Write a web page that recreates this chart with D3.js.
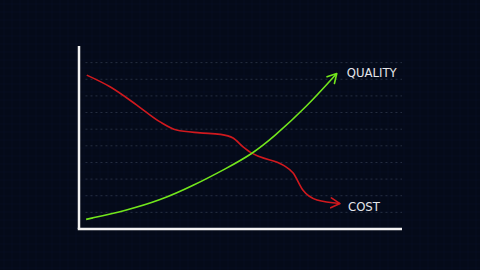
<!DOCTYPE html>
<html>
<head>
<meta charset="utf-8">
<script src="https://cdn.jsdelivr.net/npm/d3@7"></script>
<style>
  html, body { margin: 0; padding: 0; background: #040a19; }
  svg { display: block; }
</style>
</head>
<body>
<div id="container"></div>
<script>
// series values (x: 0-100, y: 0-11)
var costX = [2.4, 9.6, 17.9, 25.1, 30.2, 37.5, 43.7, 47.7, 50.8, 53.5, 56, 63.2, 66.3, 69.3, 73.7, 80.8];
var costY = [9.25, 8.55, 7.45, 6.44, 5.95, 5.78, 5.69, 5.47, 4.94, 4.56, 4.34, 3.84, 3.36, 2.34, 1.74, 1.53];
var qualityX = [2.2, 14.8, 25.1, 35.3, 45.7, 53.5, 60.1, 70.5, 79.8];
var qualityY = [0.58, 1.12, 1.72, 2.6, 3.65, 4.5, 5.5, 7.35, 9.35];
var seriesNames = ["QUALITY", "COST"];
var gridTicks = [1, 2, 3, 4, 5, 6, 7, 8, 9, 10];

var width = 480, height = 270;

var svg = d3.select("#container").append("svg")
    .attr("width", width)
    .attr("height", height);

// faint background grid
var bg = svg.append("g");
for (var gx = 4; gx < width; gx += 8) {
    bg.append("line").attr("x1", gx).attr("x2", gx).attr("y1", 0).attr("y2", height)
        .attr("stroke", "#0b1530").attr("stroke-width", 1).attr("opacity", 0.35);
}
for (var gy = 4; gy < height; gy += 8) {
    bg.append("line").attr("y1", gy).attr("y2", gy).attr("x1", 0).attr("x2", width)
        .attr("stroke", "#0b1530").attr("stroke-width", 1).attr("opacity", 0.35);
}

var x = d3.scaleLinear().domain([0, 100]).range([79, 402]);
var y = d3.scaleLinear().domain([0, 11]).range([229, 46]);

// dashed guide lines
svg.append("g")
    .selectAll("line")
    .data(gridTicks)
    .enter().append("line")
    .attr("x1", x(2)).attr("x2", x(100))
    .attr("y1", function (d) { return y(d); })
    .attr("y2", function (d) { return y(d); })
    .attr("stroke", "#262f42")
    .attr("stroke-width", 1)
    .attr("stroke-dasharray", "2,3");

// arrow markers
var defs = svg.append("defs");
[["arrRed", "#d0191e"], ["arrGreen", "#72e61c"]].forEach(function (m) {
    defs.append("marker")
        .attr("id", m[0])
        .attr("viewBox", "0 0 12 12")
        .attr("refX", 10).attr("refY", 6)
        .attr("markerWidth", 12).attr("markerHeight", 12)
        .attr("markerUnits", "userSpaceOnUse")
        .attr("orient", "auto")
        .append("path")
        .attr("d", "M1,1 L10,6 L1,11")
        .attr("fill", "none")
        .attr("stroke", m[1])
        .attr("stroke-width", 1.6)
        .attr("stroke-linecap", "round")
        .attr("stroke-linejoin", "round");
});

var lineCost = d3.line()
    .x(function (d) { return x(d[0]); })
    .y(function (d) { return y(d[1]); })
    .curve(d3.curveMonotoneX);

var lineQuality = d3.line()
    .x(function (d) { return x(d[0]); })
    .y(function (d) { return y(d[1]); })
    .curve(d3.curveBasis);

var costData = d3.zip(costX, costY);
var qualityData = d3.zip(qualityX, qualityY);

svg.append("path")
    .datum(costData)
    .attr("d", lineCost)
    .attr("fill", "none")
    .attr("stroke", "#d0191e")
    .attr("stroke-width", 1.6)
    .attr("marker-end", "url(#arrRed)");

svg.append("path")
    .datum(qualityData)
    .attr("d", lineQuality)
    .attr("fill", "none")
    .attr("stroke", "#72e61c")
    .attr("stroke-width", 1.6)
    .attr("marker-end", "url(#arrGreen)");

// axes
svg.append("line")
    .attr("x1", x(0)).attr("x2", x(0))
    .attr("y1", y(11)).attr("y2", y(0))
    .attr("stroke", "#f2f2f2").attr("stroke-width", 2.5);
svg.append("line")
    .attr("x1", x(0) - 1.25).attr("x2", x(100))
    .attr("y1", y(0)).attr("y2", y(0))
    .attr("stroke", "#f2f2f2").attr("stroke-width", 2.5);

// labels
var ends = [qualityData[qualityData.length - 1], costData[costData.length - 1]];
svg.append("g")
    .selectAll("text")
    .data(seriesNames)
    .enter().append("text")
    .attr("x", function (d, i) { return x(ends[i][0]) + (i === 0 ? 10 : 8); })
    .attr("y", function (d, i) { return y(ends[i][1]) + (i === 0 ? 4 : 7); })
    .attr("fill", "#e4e6ea")
    .style("font-family", "'Liberation Sans Narrow', 'DejaVu Sans Condensed', sans-serif")
    .style("font-size", "13px")
    .text(function (d) { return d; });
</script>
</body>
</html>
